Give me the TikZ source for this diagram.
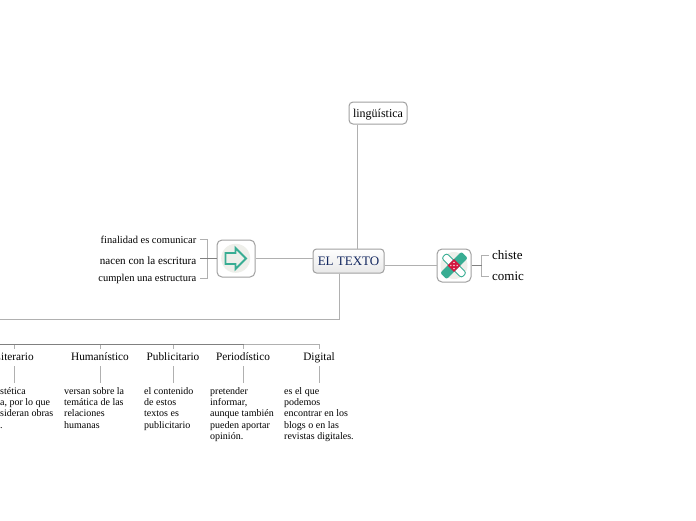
\documentclass[tikz,border=0pt]{standalone}
\usepackage{fontspec}
\setmainfont{Liberation Serif}
\definecolor{lineg}{HTML}{B0B0B0}
\definecolor{darkl}{HTML}{808080}
\definecolor{boxl}{HTML}{A0A0A0}
\definecolor{navy}{HTML}{12265E}
\definecolor{teal}{HTML}{38AD93}
\definecolor{pale}{HTML}{EEEFEA}
\definecolor{dred}{HTML}{D3173F}
\tikzset{
  conn/.style={draw=lineg,line width=1pt},
  connd/.style={draw=darkl,line width=1.3pt},
  rootbox/.style={draw=boxl,line width=1pt,rounded corners=3.5pt,top color=white,bottom color=gray!18,minimum width=71pt,minimum height=24pt,inner sep=0pt,font=\fontsize{13}{15}\selectfont,text=navy},
  lingbox/.style={draw=boxl,line width=1pt,rounded corners=4pt,fill=white,minimum width=58pt,minimum height=22pt,inner sep=0pt},
  iconbox/.style={draw=boxl,line width=1pt,rounded corners=5pt,fill=white,inner sep=0pt},
  leaf/.style={inner sep=0pt,font=\fontsize{10.5}{12}\selectfont,anchor=east},
  big/.style={inner sep=0pt,font=\fontsize{13}{15}\selectfont,anchor=west},
  cat/.style={inner sep=0pt,font=\fontsize{11.3}{13}\selectfont,anchor=base},
  desc/.style={inner sep=0pt,font=\fontsize{10}{11.4}\selectfont,align=left,anchor=north west},
}
\begin{document}
\begin{tikzpicture}[x=1pt,y=-1pt]
\useasboundingbox (0,0) rectangle (696,520);
\clip (0,0) rectangle (696,520);
\fill[white] (0,0) rectangle (696,520);
% nodes
\node[rootbox] (root) at (348.5,261) {EL TEXTO};
\node[lingbox] (ling) at (378,113) {};
\node[inner sep=0pt,anchor=base,font=\fontsize{12}{14}\selectfont] (lingt) at (378,117) {lingüística};
\node[iconbox,minimum width=38pt,minimum height=37pt] (arrowbox) at (236,258.5) {};
\node[iconbox,minimum width=34pt,minimum height=33pt] (crossbox) at (454,265.5) {};
\node[leaf] (f1) at (196.5,240.2) {finalidad es comunicar};
\node[leaf,font=\fontsize{11.1}{12}\selectfont] (f2) at (196.5,260.2) {nacen con la escritura};
\node[leaf] (f3) at (196.5,279.2) {cumplen una estructura};
\node[big] (chiste) at (492,255) {chiste};
\node[big] (comic) at (492,276) {comic};
\node[cat] (c1) at (14,360) {Literario};
\node[cat] (c2) at (100,360) {Humanístico};
\node[cat] (c3) at (173,360) {Publicitario};
\node[cat] (c4) at (243,360) {Periodístico};
\node[cat] (c5) at (319,360) {Digital};
\node[desc] (d1) at (0,387) {stética\\a, por lo que\\sideran obras\\.};
\node[desc] (d2) at (64,387) {versan sobre la\\temática de las\\relaciones\\humanas};
\node[desc] (d3) at (144,387) {el contenido\\de estos\\textos es\\publicitario};
\node[desc] (d4) at (210,387) {pretender\\informar,\\aunque también\\pueden aportar\\opinión.};
\node[desc] (d5) at (284,387) {es el que\\podemos\\encontrar en los\\blogs o en las\\revistas digitales.};
% helper coordinates
\coordinate (rootdown) at (339.5,319.5);
\coordinate (offleft) at (0,319.5);
\coordinate (barL) at (0,344.5);
\coordinate (barM) at (243.5,344.5);
\coordinate (barR) at (319.5,344.5);
% connectors
\draw[conn] (ling.south -| 357.5,0) -- (root.north -| 357.5,0);
\draw[conn] (root.west |- 0,258.5) -- (arrowbox.east |- 0,258.5);
\draw[conn] (root.east |- 0,265.5) -- (crossbox.west |- 0,265.5);
\draw[conn] (root.south -| rootdown) -- (rootdown) -- (offleft);
% left bracket
\draw[conn] (199.5,239.5) -- (207.5,239.5) -- (207.5,278.5) -- (199.5,278.5);
\draw[connd] (arrowbox.west |- 0,258.5) -- (199.5,258.5);
% right bracket
\draw[conn] (489,255.5) -- (481.5,255.5) -- (481.5,276.5) -- (489,276.5);
\draw[connd] (crossbox.east |- 0,265.5) -- (481.5,265.5);
% bottom bracket
\draw[conn] (barM) -- (barR);
\draw[connd] (barL) -- (barM);
\foreach \n/\x in {c1/14.5,c2/100.5,c3/173.5,c4/243.5,c5/319.5}{
  \draw[conn] (\x,344.5) -- (\x,349);
  \draw[conn] (\x,366) -- (\x,383);
}
% arrow icon
\fill[pale] (235.7,258.3) circle (14.5pt);
\draw[teal,line width=1.9pt,line join=miter] (225.5,253) -- (235.5,253) -- (235.5,248) -- (246,258.5) -- (235.5,269) -- (235.5,264) -- (225.5,264) -- cycle;
% cross icon
\fill[pale] (crossbox.center) circle (13.5pt);
\begin{scope}[shift={(454,265.5)},rotate=-45]
  \draw[teal,fill=white,line width=.9pt,rounded corners=2.5pt] (-14,-3.5) rectangle (14,3.5);
  \fill[teal,rounded corners=2pt] (-4.5,-15) rectangle (4.5,15);
  \fill[dred] (-4.5,-4.5) rectangle (4.5,4.5);
  \foreach \a/\b in {-2.2/-2.2,2.2/-2.2,-2.2/2.2,2.2/2.2,0/0}{\fill[white] (\a,\b) circle (.8pt);}
\end{scope}
\end{tikzpicture}
\end{document}
